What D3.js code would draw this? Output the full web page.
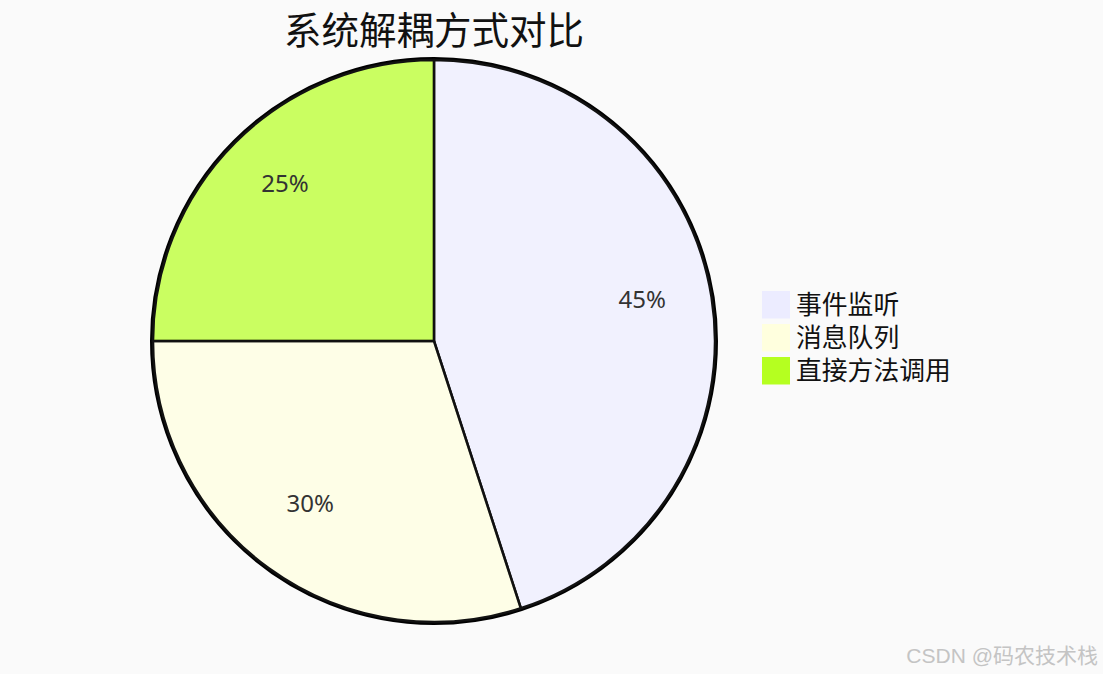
<html lang="zh">
<head>
    <meta charset="UTF-8">
    <title>系统解耦方式对比</title>
    <style>
        body {
            margin: 0;
            background-color: #fafafa;
            overflow: hidden;
        }

        svg {
            display: block;
        }

        .slice-label {
            fill: #333;
            font: 24px "Noto Sans", sans-serif;
        }

        .legend-label {
            fill: #111;
            font: 25.8px "Noto Sans CJK SC", sans-serif;
        }

        .title {
            fill: #111;
            font: 37.5px "Noto Sans CJK SC", sans-serif;
        }

        .watermark {
            fill: #c4c4c4;
            font: 21px "Liberation Sans", "Noto Sans CJK SC", sans-serif;
        }
    </style>
</head>

<body>
    <div id="chart"></div>

    <script src="https://d3js.org/d3.v7.min.js"></script>
    <script>
        const labels = ['事件监听', '消息队列', '直接方法调用'];
        const values = [45, 30, 25];
        const colors = ['#ececff', '#ffffde', '#b5ff20'];
        const title = '系统解耦方式对比';

        const width = 1103;
        const height = 674;
        const cx = 434;
        const cy = 341;
        const radius = 281;

        const svg = d3.select('#chart')
            .append('svg')
            .attr('width', width)
            .attr('height', height);

        // Title
        svg.append('text')
            .attr('class', 'title')
            .attr('x', cx)
            .attr('y', 44)
            .attr('text-anchor', 'middle')
            .text(title);

        const color = d3.scaleOrdinal().domain(labels).range(colors);

        const pie = d3.pie()
            .sort(null)
            .value(d => d.value);

        const arcs = pie(labels.map((l, i) => ({ label: l, value: values[i] })));

        const arc = d3.arc().innerRadius(0).outerRadius(radius);
        // labels sit at 75% of the radius
        const labelArc = d3.arc().innerRadius(radius * 0.75).outerRadius(radius * 0.75);

        const g = svg.append('g')
            .attr('transform', `translate(${cx},${cy})`);

        g.append('circle')
            .attr('r', radius + 1.5)
            .attr('fill', 'none')
            .attr('stroke', 'black')
            .attr('stroke-width', 3);

        g.selectAll('path')
            .data(arcs)
            .join('path')
            .attr('d', arc)
            .attr('fill', d => color(d.data.label))
            .attr('fill-opacity', 0.7)
            .attr('stroke', '#111')
            .attr('stroke-width', 2.5);

        g.selectAll('.slice-label')
            .data(arcs)
            .join('text')
            .attr('class', 'slice-label')
            .attr('transform', d => `translate(${labelArc.centroid(d)})`)
            .attr('text-anchor', 'middle')
            .text(d => Math.round(d.data.value / d3.sum(values) * 100) + '%');

        // Legend
        const legend = svg.append('g')
            .attr('transform', 'translate(762,291)')
            .selectAll('g')
            .data(labels)
            .join('g')
            .attr('transform', (d, i) => `translate(0,${i * 33})`);

        legend.append('rect')
            .attr('width', 28)
            .attr('height', 27.5)
            .attr('fill', d => color(d));

        legend.append('text')
            .attr('class', 'legend-label')
            .attr('x', 34)
            .attr('y', 22.5)
            .text(d => d);

        // Watermark
        svg.append('text')
            .attr('class', 'watermark')
            .attr('x', 1098)
            .attr('y', 663)
            .attr('text-anchor', 'end')
            .text('CSDN @码农技术栈');
    </script>
</body>

</html>
